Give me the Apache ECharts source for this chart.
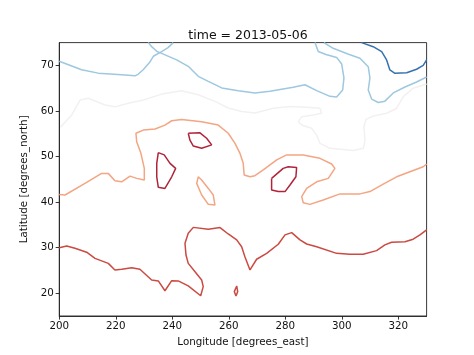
<!DOCTYPE html>
<html>
<head>
<meta charset="utf-8">
<script src="https://cdn.jsdelivr.net/npm/echarts@6/dist/echarts.min.js"></script>
<style>html,body{margin:0;padding:0;background:#fff}#c{width:474px;height:355px}</style>
</head>
<body>
<div id="c"></div>
<script>
// Contour lines as [longitude, latitude] pairs
const xTicks = [200, 220, 240, 260, 280, 300, 320];
const yTicks = [20, 30, 40, 50, 60, 70];

// light blue
const blueA = [[200,70.9],[207.9,69.05],[213.8,68.3],[222.1,67.95],[226.8,67.7],[228.0,68.1],[229.7,69.05],[232.1,70.75],[233.3,72.0],[235.6,72.8],[236.25,72.8],[241.55,71.2],[245.65,69.8],[249.2,67.6],[252.75,66.5],[257.5,65.05],[263.35,64.45],[269.25,63.95],[274.55,64.3],[282.8,65.2],[286.95,65.75],[291.1,64.45],[295.8,63.2],[298.15,63.05],[300.3,64.6],[300.75,67.25],[299.95,70.3],[298.15,71.75],[294.4,72.4],[291.65,73.05],[290.5,75]];
const blueB = [[231.5,75],[232.8,74.05],[234.6,73.05],[235.6,72.8],[236.35,73.05],[238.5,73.9],[240.35,75]];
const blueC = [[293.65,75],[296.95,73.75],[302.15,72.5],[306.4,71.55],[309.35,69.7],[309.95,67.25],[309.35,64.6],[310.55,62.6],[312.9,61.85],[315.25,62.15],[318.2,63.95],[322.35,65.25],[326.45,66.35],[330,67.45]];
// dark blue
const blueD = [[307.0,75],[311.1,74.1],[314.1,73.0],[315.85,71.2],[317.0,69.0],[318.8,68.25],[322.95,68.4],[326.45,69.15],[328.8,70.0],[330,71.2]];
// near white
const whiteW = [[200.45,56.45],[204.4,59.1],[207.35,62.4],[210.3,62.8],[216.2,61.3],[219.7,60.9],[224.45,61.7],[229.75,62.4],[236.25,63.7],[243.3,64.45],[249.2,63.55],[255.1,62.1],[259.8,60.65],[264.55,59.9],[269.25,59.55],[275.75,60.6],[281.65,60.95],[287.55,60.8],[292.25,60.6],[292.85,59.5],[289.9,59.1],[285.8,58.75],[284.6,57.65],[285.8,56.9],[289.3,56.2],[291.1,54.7],[292.25,52.9],[295.8,51.8],[304.05,51.3],[307.6,51.8],[308.2,53.6],[307.8,56.55],[308.55,58.15],[311.1,58.9],[315.85,59.5],[319.4,60.6],[321.75,63.15],[325.25,65.0],[328.8,65.7],[330,65.9]];
// salmon
const salmonS1 = [[200,41.65],[202.05,41.55],[209.1,44.1],[215.0,46.3],[217.35,46.3],[219.7,44.7],[222.1,44.45],[225.05,45.7],[227.4,45.2],[230.1,44.85],[230.1,47.4],[228.9,50.7],[227.4,53.25],[227.15,55.1],[229.75,55.8],[233.9,56.05],[237.4,56.9],[239.8,57.85],[243.3,58.1],[250.4,57.65],[256.25,56.9],[259.8,55.1],[262.2,52.9],[263.95,50.7],[265.1,48.5],[265.45,45.95],[267.5,45.55],[269.25,45.8],[272.2,47.05],[276.95,49.25],[280.45,50.35],[286.35,50.35],[292.25,49.6],[296.4,48.35],[297.55,47.4],[295.2,45.2],[291.1,44.45],[287.55,43.0],[285.8,41.2],[286.35,39.85],[288.7,39.5],[293.4,40.45],[299.35,41.8],[306.4,41.8],[309.95,42.3],[314.65,43.95],[319.4,45.55],[324.1,46.65],[328.8,47.75],[330,48.35]];
const salmonS2 = [[249.2,45.55],[250.4,44.85],[252.75,43.0],[254.5,41.55],[255.1,39.35],[252.75,39.5],[250.4,41.55],[248.65,44.1],[249.2,45.55]];
// dark red loops
const darkR1 = [[235.05,50.85],[237.15,50.35],[239.2,48.5],[241.2,47.4],[239.8,45.55],[237.4,43.0],[235.05,43.25],[234.5,45.55],[234.5,48.5],[235.05,50.85]];
const darkR2 = [[245.65,55.1],[249.8,55.2],[252.15,54.0],[253.95,52.55],[250.4,51.8],[247.45,52.3],[246.25,53.6],[245.65,55.1]];
const darkR3 = [[275.15,45.2],[279.25,47.4],[281.05,47.75],[284.0,47.6],[283.75,45.55],[281.65,43.75],[279.9,42.3],[277.5,42.3],[275.15,42.65],[275.15,45.2]];
// red
const redL = [[200,30.0],[202.65,30.35],[205.55,29.85],[209.7,29.0],[212.65,27.65],[217.35,26.55],[219.7,25.1],[222.1,25.25],[225.65,25.6],[228.55,25.25],[232.7,22.9],[235.05,22.7],[237.4,20.55],[239.8,22.75],[242.1,22.7],[245.65,21.6],[250.05,19.45],[250.95,21.45],[250.4,22.9],[248.05,24.7],[245.65,26.55],[244.85,28.4],[244.5,30.95],[245.65,33.15],[247.45,34.45],[252.75,34.05],[256.9,34.4],[259.8,33.0],[262.8,31.7],[264.55,30.2],[265.7,28.0],[267.5,25.1],[269.85,27.45],[273.4,28.75],[277.5,30.75],[279.9,32.8],[282.25,33.3],[285.2,31.7],[287.55,30.8],[291.1,30.2],[298.15,28.75],[302.85,28.55],[307.55,28.55],[312.3,29.35],[315.25,30.6],[317.6,31.2],[322.35,31.3],[325.25,31.85],[327.65,32.8],[330,33.9]];
const redL2 = [[262.8,21.6],[263.15,20.35],[262.55,19.4],[261.95,20.35],[262.8,21.6]];

const contours = [
  {d: blueA, c: '#9dc8e0'}, {d: blueB, c: '#9dc8e0'}, {d: blueC, c: '#9dc8e0'},
  {d: blueD, c: '#3672ad'},
  {d: whiteW, c: '#f3f1f0'},
  {d: salmonS1, c: '#f4a583'}, {d: salmonS2, c: '#f4a583'},
  {d: darkR1, c: '#b0243a'}, {d: darkR2, c: '#b0243a'}, {d: darkR3, c: '#b0243a'},
  {d: redL, c: '#cb4a42'}, {d: redL2, c: '#cb4a42'}
];

const font = 'DejaVu Sans';
const chart = echarts.init(document.getElementById('c'), null, {renderer: 'canvas'});
chart.setOption({
  animation: false,
  backgroundColor: '#fff',
  title: {
    text: 'time = 2013-05-06', left: 243, top: 24, textAlign: 'center',
    textStyle: {fontFamily: font, fontSize: 12.5, fontWeight: 'normal', color: '#111'}
  },
  grid: {left: 59.25, right: 47.4, top: 42.6, bottom: 39, show: true, borderColor: '#222', borderWidth: 0.9, containLabel: false},
  xAxis: {
    type: 'value', min: 200, max: 330,
    name: 'Longitude [degrees_east]', nameLocation: 'middle', nameGap: 21,
    nameTextStyle: {fontFamily: font, fontSize: 10.3, color: '#111'},
    axisLine: {show: true, lineStyle: {color: '#222', width: 0.9}},
    axisTick: {show: true, length: 3.6, customValues: xTicks, lineStyle: {color: '#222', width: 0.9}},
    axisLabel: {customValues: xTicks, margin: 5.5, fontFamily: font, fontSize: 10.3, color: '#111'},
    splitLine: {show: false}
  },
  yAxis: {
    type: 'value', min: 15, max: 75,
    name: 'Latitude [degrees_north]', nameLocation: 'middle', nameGap: 30, nameRotate: 90,
    nameTextStyle: {fontFamily: font, fontSize: 10.3, color: '#111'},
    axisLine: {show: true, lineStyle: {color: '#222', width: 0.9}},
    axisTick: {show: true, length: 3.6, customValues: yTicks, lineStyle: {color: '#222', width: 0.9}},
    axisLabel: {customValues: yTicks, margin: 5.5, fontFamily: font, fontSize: 10.3, color: '#111'},
    splitLine: {show: false}
  },
  series: contours.map(ct => ({
    type: 'line', data: ct.d, showSymbol: false, symbol: 'none', smooth: false,
    clip: true, silent: true,
    lineStyle: {color: ct.c, width: 1.5}
  }))
});
</script>
</body>
</html>
